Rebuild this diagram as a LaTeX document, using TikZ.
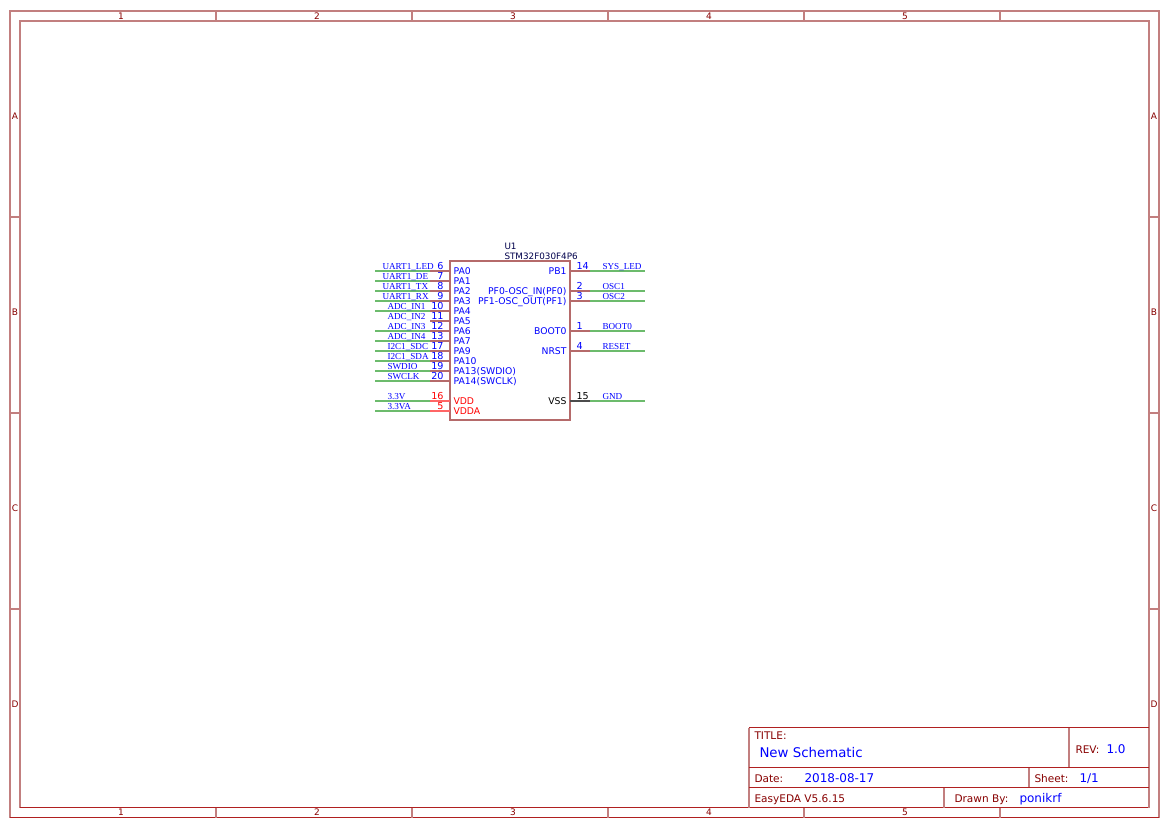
\documentclass[tikz,border=0pt]{standalone}
\usepackage{fontspec}
\setmainfont{DejaVu Sans}
\newfontfamily\netfont{Liberation Serif}
\definecolor{framered}{HTML}{B02020}
\definecolor{textred}{HTML}{880000}
\definecolor{palered}{HTML}{C27F7F}
\definecolor{pinred}{HTML}{B56A6A}
\definecolor{wiregreen}{HTML}{6CBB6C}
\definecolor{pinblue}{HTML}{0000FF}

\begin{document}
\begin{tikzpicture}[x=0.75pt,y=-0.75pt,line width=0.75pt,
	frameline/.style={draw=palered,line width=1.5pt},
	darkline/.style={draw=framered,line width=0.75pt},
	wire/.style={draw=wiregreen,line width=1.5pt},
	pinline/.style={draw=pinred,line width=1.5pt},
	txt/.style={inner sep=0,anchor=base west},
	border/.style={inner sep=0,anchor=base,text=textred,font=\fontsize{6.75pt}{8pt}\selectfont},
	pinname/.style={txt,text=pinblue,font=\fontsize{6.95pt}{8pt}\selectfont},
	pinnum/.style={inner sep=0,text=pinblue,font=\fontsize{7.2pt}{8pt}\selectfont},
	netlabel/.style={txt,text=pinblue,font=\netfont\fontsize{6.85pt}{9pt}\selectfont},
	part/.style={txt,text=black!70!blue,font=\fontsize{6.6pt}{8pt}\selectfont},
	tblabel/.style={txt,text=textred,font=\fontsize{7.9pt}{9pt}\selectfont},
	tbvalue/.style={txt,text=pinblue,font=\fontsize{9pt}{11pt}\selectfont}]
	\useasboundingbox (0,0) rectangle (1169,828);
	\fill[white] (0,0) rectangle (1169,828);

	% sheet frame
	\draw[frameline] (10,817.5) -- (10,11) -- (1159,11) -- (1159,817.5);
	\draw[frameline] (20,807.5) -- (20,21) -- (1149,21) -- (1149,807.5);
	\draw[darkline] (10,817.5) -- (1159,817.5);
	\draw[darkline] (20,807.5) -- (1149,807.5);
	\foreach \x in {216,412,608,804,1000} {
		\draw[frameline] (\x,11) -- (\x,21);
		\draw[frameline] (\x,807.5) -- (\x,817.5);
	}
	\foreach \y in {217,413,609} {
		\draw[frameline] (10,\y) -- (20,\y);
		\draw[frameline] (1149,\y) -- (1159,\y);
	}
	\foreach \x/\n in {121/1,317/2,513/3,709/4,905/5} {
		\node[border] (top\n) at (\x,19) {\n};
		\node[border] (bot\n) at (\x,815.5) {\n};
	}
	\foreach \y/\n in {119/A,315/B,511/C,707/D} {
		\node[border] (left\n) at (15,\y) {\n};
		\node[border] (right\n) at (1154,\y) {\n};
	}

	% title block
	\draw[frameline] (749,727.5) -- (749,807.5);
	\draw[frameline] (1069,727.5) -- (1069,767.5);
	\draw[frameline] (1029,767.5) -- (1029,787.5);
	\draw[frameline] (944,787.5) -- (944,807.5);
	\draw[frameline] (1149,727.5) -- (1149,807.5);
	\draw[darkline] (749,727.5) -- (1149,727.5);
	\draw[darkline] (749,767.5) -- (1149,767.5);
	\draw[darkline] (749,787.5) -- (1149,787.5);
	\node[tblabel] (tbtitle) at (754,739.3) {TITLE:};
	\node[tbvalue,font=\fontsize{10pt}{12pt}\selectfont] (tbname) at (759,757.7) {New Schematic};
	\node[tblabel] (tbrev) at (1075,753.3) {REV:};
	\node[tbvalue] (tbrevval) at (1106,753.3) {1.0};
	\node[tblabel] (tbdate) at (754,782.5) {Date:};
	\node[tbvalue] (tbdateval) at (804,782.3) {2018-08-17};
	\node[tblabel] (tbsheet) at (1034,782.5) {Sheet:};
	\node[tbvalue] (tbsheetval) at (1079,782.3) {1/1};
	\node[tblabel] (tbtool) at (754,802.7) {EasyEDA V5.6.15};
	\node[tblabel] (tbdrawn) at (954,802.7) {Drawn By:};
	\node[tbvalue] (tbdrawnval) at (1019,802.7) {ponikrf};

	% chip
	\node[pinline,inner sep=0,outer sep=0,minimum width=90pt,minimum height=119.25pt,anchor=north west] (U1) at (450,261) {};
	\node[part] (U1ref) at (504,249.5) {U1};
	\node[part] (U1val) at (504,259) {STM32F030F4P6};

	% left pins
	\foreach \y/\num/\pin/\net/\lx in {271/6/PA0/UART1\_LED/382,281/7/PA1/UART1\_DE/382,291/8/PA2/UART1\_TX/382,301/9/PA3/UART1\_RX/382,311/10/PA4/ADC\_IN1/387,331/12/PA6/ADC\_IN3/387,341/13/PA7/ADC\_IN4/387,351/17/PA9/I2C1\_SDC/387,361/18/PA10/I2C1\_SDA/387,371/19/PA13(SWDIO)/SWDIO/387,381/20/PA14(SWCLK)/SWCLK/387} {
		\coordinate (in\num) at (450,\y);
		\coordinate (out\num) at (430,\y);
		\coordinate (end\num) at (375,\y);
		\draw[wire] (out\num) -- (end\num);
		\draw[pinline] (in\num) -- (out\num);
		\node[pinname] (name\num) at (453,\y+3) {\pin};
		\node[pinnum,anchor=base east] (num\num) at (444,\y-1.2) {\num};
		\node[netlabel] (net\num) at (\lx,\y-1.9) {\net};
	}
	% PA5 has a pin, no wire
	\coordinate (in11) at (450,321);
	\coordinate (out11) at (430,321);
	\draw[pinline] (in11) -- (out11);
	\node[pinname] (name11) at (453,324) {PA5};
	\node[pinnum,anchor=base east] (num11) at (444,319.8) {11};
	\node[netlabel] (net11) at (387,319.1) {ADC\_IN2};

	% power pins
	\foreach \y/\num/\pin/\net in {401/16/VDD/3.3V,411/5/VDDA/3.3VA} {
		\coordinate (in\num) at (450,\y);
		\coordinate (out\num) at (430,\y);
		\coordinate (end\num) at (375,\y);
		\draw[wire] (out\num) -- (end\num);
		\draw[pinline,draw=red!60] (in\num) -- (out\num);
		\node[pinname,text=red] (name\num) at (453,\y+3) {\pin};
		\node[pinnum,anchor=base east,text=red] (num\num) at (444,\y-1.2) {\num};
		\node[netlabel] (net\num) at (387,\y-1.9) {\net};
	}

	% right pins
	\foreach \y/\num/\pin/\net in {271/14/PB1/SYS\_LED,291/2/PF0-OSC\_IN(PF0)/OSC1,301/3/PF1-OSC\_OUT(PF1)/OSC2,331/1/BOOT0/BOOT0,351/4/NRST/RESET} {
		\coordinate (in\num) at (570,\y);
		\coordinate (out\num) at (590,\y);
		\coordinate (end\num) at (645,\y);
		\draw[wire] (out\num) -- (end\num);
		\draw[pinline] (in\num) -- (out\num);
		\node[pinname,anchor=base east] (name\num) at (567,\y+3) {\pin};
		\node[pinnum,anchor=base west] (num\num) at (576,\y-1.2) {\num};
		\node[netlabel] (net\num) at (602,\y-1.9) {\net};
	}
	\coordinate (in15) at (570,401);
	\coordinate (out15) at (590,401);
	\coordinate (end15) at (645,401);
	\draw[wire] (out15) -- (end15);
	\draw[pinline,draw=black!70] (in15) -- (out15);
	\node[pinname,anchor=base east,text=black] (name15) at (567,404) {VSS};
	\node[pinnum,anchor=base west,text=black] (num15) at (576,399.8) {15};
	\node[netlabel] (net15) at (602,399.1) {GND};
\end{tikzpicture}
\end{document}
